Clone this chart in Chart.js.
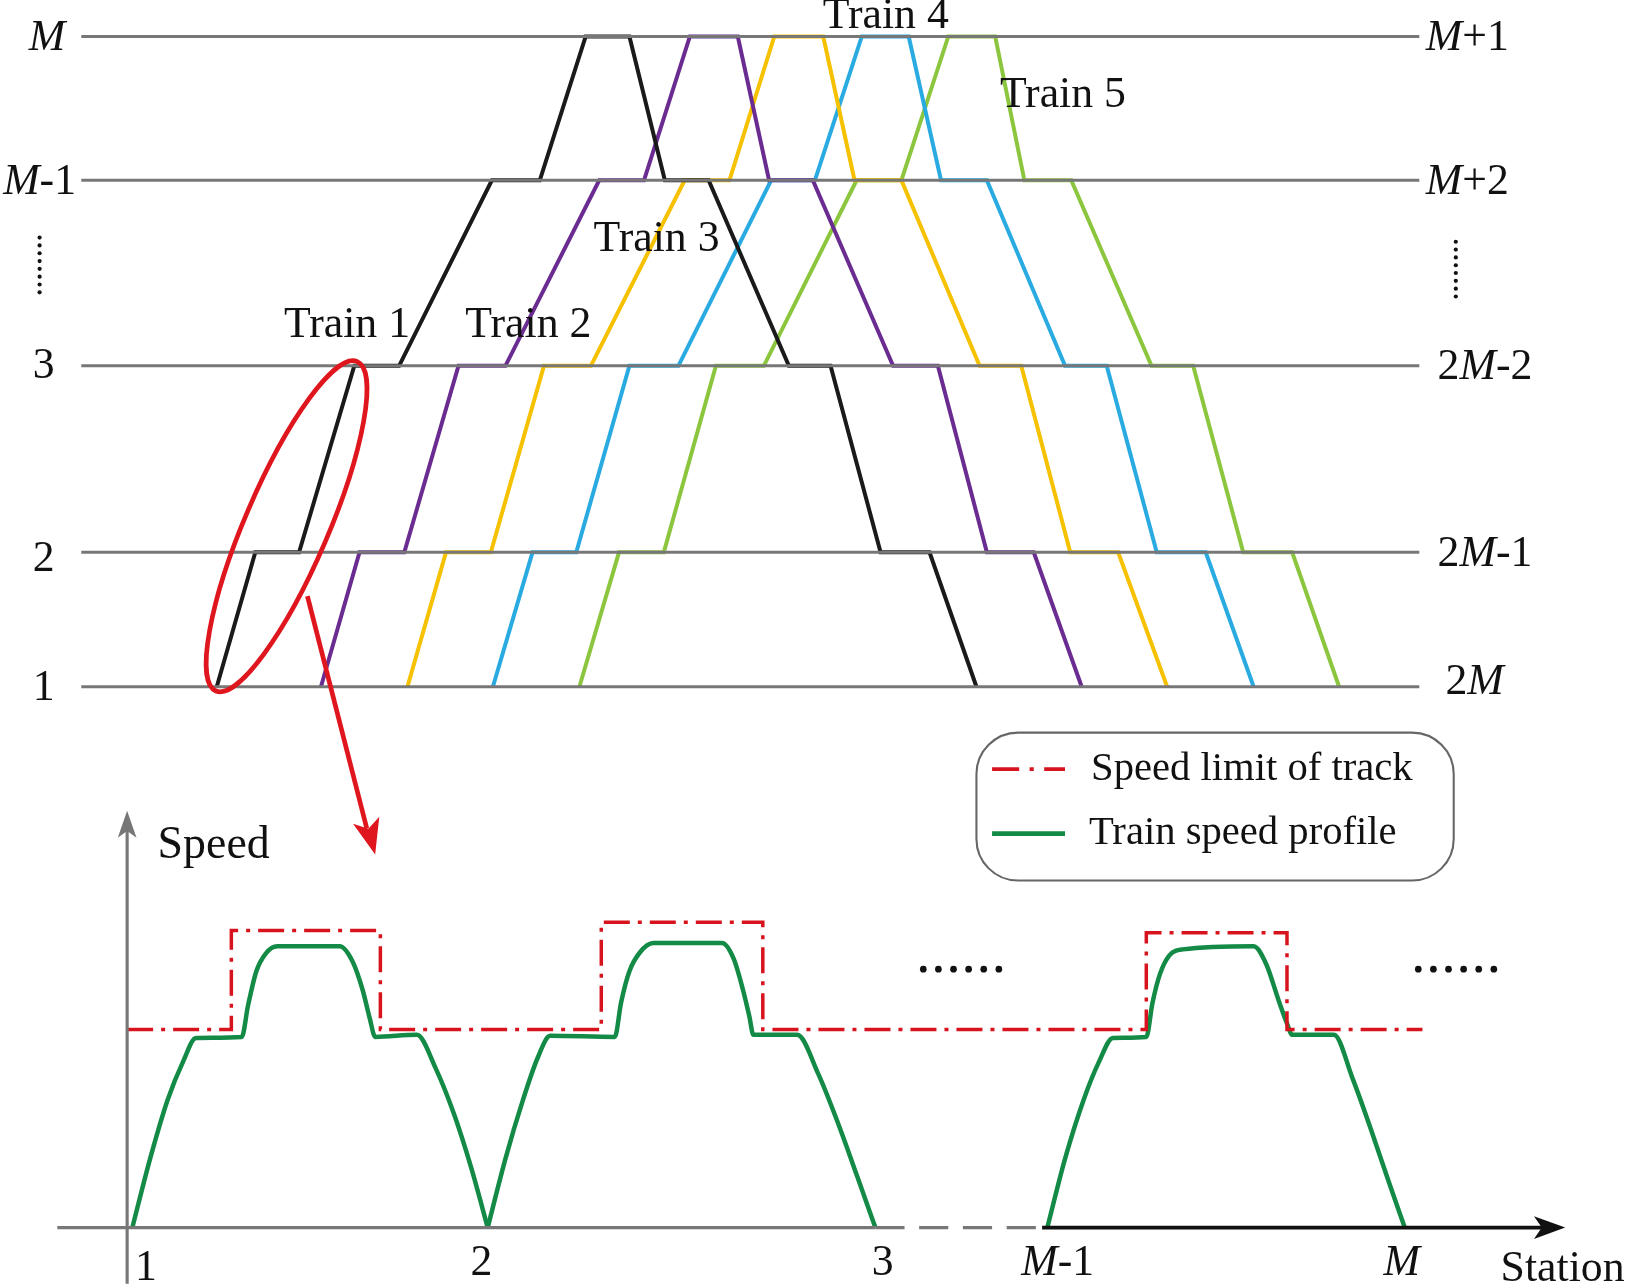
<!DOCTYPE html>
<html><head><meta charset="utf-8">
<script src="https://cdn.jsdelivr.net/npm/chart.js@4"></script>
<style>html,body{margin:0;padding:0;background:#fff}#w{width:1634px;height:1287px}</style>
</head><body><div id="w"><canvas id="c"></canvas></div>
<script>
// coordinates in reference units (1568 x 1235 plane)
const stationRowsY = [35, 173, 351, 530, 659];
const trainPatternY = [659,530,530,351,351,173,173,35,35,173,173,351,351,530,530,659];
const train1X = [208,245,287,340,383,472,518,562,604,638,680,757,797,845,892,937];
const train2X = [308,345,388,440,485,575,618,662,708,738,780,857,900,947,992,1038];
const train3X = [391,428,471,522,567,657,700,743,790,820,865,940,980,1027,1073,1120];
const train4X = [473,511,553,604,651,740,782,827,872,903,947,1022,1062,1110,1157,1203];
const train5X = [556,594,637,687,733,822,865,910,955,983,1028,1105,1145,1193,1240,1285];
const trainColors = ['#1a1a1a','#6a2c91','#f5c100','#29abe2','#8cc63f'];
const limitX = [122,222,222,365,365,577,577,732,732,1100,1100,1235,1235,1365];
const limitY = [988,988,893,893,988,988,885,885,988,988,895,895,988,988];
const prof1 = [[127,1178],[144,1112],[161,1055],[176,1018],[188,996],[232,995],[238,965],[246,932],[255,915],[266,908],[326,908],[338,922],[348,950],[355,978],[360,995],[400,993],[418,1025],[436,1070],[452,1120],[468,1178]];
const prof2 = [[468,1178],[485,1112],[502,1055],[516,1015],[528,994],[590,995],[596,962],[604,932],[614,914],[627,905],[693,905],[704,920],[713,950],[719,975],[723,993],[765,993],[785,1030],[805,1080],[823,1130],[840,1178]];
const prof3 = [[1005,1178],[1022,1112],[1040,1055],[1055,1018],[1068,996],[1100,995],[1106,962],[1113,935],[1122,917],[1135,911],[1203,908],[1215,925],[1227,960],[1235,982],[1240,993],[1280,993],[1298,1035],[1316,1085],[1333,1135],[1348,1178]];

const pts=(xs,ys)=>xs.map((x,i)=>({x,y:ys[i]}));
const ds=[];
stationRowsY.forEach(y=>ds.push({data:[{x:78,y},{x:1362,y}],borderColor:'#777',borderWidth:3,pointRadius:0}));
[train1X,train2X,train3X,train4X,train5X].forEach((xs,i)=>ds.push({data:pts(xs,trainPatternY),borderColor:trainColors[i],borderWidth:4,pointRadius:0,borderJoinStyle:'miter'}));
ds.push({data:pts(limitX,limitY),borderColor:'#d7141d',borderWidth:3.5,borderDash:[26,8,4,8],pointRadius:0});
[prof1,prof2,prof3].forEach(p=>ds.push({data:p.map(([x,y])=>({x,y})),borderColor:'#138a45',borderWidth:4.5,pointRadius:0,cubicInterpolationMode:'monotone'}));

const FONT='"Liberation Serif","Times New Roman",serif';
const deco={id:'deco',afterDatasetsDraw(ch){
  const c=ch.ctx,X=v=>ch.scales.x.getPixelForValue(v),Y=v=>ch.scales.y.getPixelForValue(v),k=X(1)-X(0);
  c.save();
  const line=(pts,col,w,dash)=>{c.beginPath();c.strokeStyle=col;c.lineWidth=w*k;c.setLineDash(dash||[]);pts.forEach(([x,y],i)=>i?c.lineTo(X(x),Y(y)):c.moveTo(X(x),Y(y)));c.stroke();c.setLineDash([]);};
  const head=(x,y,ang,col,L,W)=>{c.save();c.translate(X(x),Y(y));c.rotate(ang);c.beginPath();c.moveTo(0,0);c.lineTo(-L*k,-W*k);c.lineTo(-L*k*0.75,0);c.lineTo(-L*k,W*k);c.closePath();c.fillStyle=col;c.fill();c.restore();};
  line([[122,1232],[122,790]],'#777',3);head(122,778,-Math.PI/2,'#777',26,9);
  line([[55,1178],[840,1178]],'#777',3);line([[840,1178],[1000,1178]],'#777',3,[28*k,14*k]);
  line([[1000,1178],[1482,1178]],'#111',3.5);head(1502,1178,0,'#111',30,11);
  c.beginPath();c.strokeStyle='#e0161e';c.lineWidth=4.5*k;
  c.ellipse(X(275),Y(505),172*k,40*k,Math.atan2(-310,133),0,Math.PI*2);c.stroke();
  line([[295,572],[352,795]],'#e0161e',4.5);head(360,820,Math.atan2(248,65),'#e0161e',34,13);
  c.beginPath();c.strokeStyle='#666';c.lineWidth=2*k;c.roundRect(X(937),Y(703),458*k,142*k,40*k);c.stroke();
  line([[952,738],[1022,738]],'#d7141d',3.5,[26*k,10*k,4*k,10*k]);
  line([[952,800],[1022,800]],'#138a45',4.5);
  const T=(s,x,y,sz,al,it)=>{c.font=(it?'italic ':'')+(sz*k)+'px '+FONT;c.fillStyle='#111';c.textAlign=al||'center';c.textBaseline='middle';c.fillText(s,X(x),Y(y));};
  const TM=(parts,x,y,sz,al)=>{c.textBaseline='middle';let w=0;parts.forEach(([s,it])=>{c.font=(it?'italic ':'')+(sz*k)+'px '+FONT;w+=c.measureText(s).width;});let px=X(x)-(al==='left'?0:al==='right'?w:w/2);parts.forEach(([s,it])=>{c.font=(it?'italic ':'')+(sz*k)+'px '+FONT;c.fillStyle='#111';c.textAlign='left';c.fillText(s,px,Y(y));px+=c.measureText(s).width;});};
  TM([['M',1]],45,37,42);TM([['M',1],['-1']],38,175,42);
  T('3',42,352,42);T('2',42,537,42);T('1',42,661,42);
  TM([['M',1],['+1']],1408,37,42);TM([['M',1],['+2']],1408,175,42);
  TM([['2'],['M',1],['-2']],1425,353,42);TM([['2'],['M',1],['-1']],1425,532,42);TM([['2'],['M',1]],1415,655,42);
  c.fillStyle='#111';[[38,228,8],[1397,232,8]].forEach(([x,y,n])=>{for(let i=0;i<n;i++){c.beginPath();c.arc(X(x),Y(y+i*7.5),2*k,0,7);c.fill();}});
  T('Train 4',850,16,42);T('Train 5',1020,92,42);T('Train 3',630,230,42);T('Train 1',333,312,42);T('Train 2',507,312,42);
  T('Speed',205,812,44);T('Speed limit of track',1047,738,39,'left');T('Train speed profile',1045,800,39,'left');
  [[922,930],[1397,930]].forEach(([x,y])=>{for(let i=0;i<6;i++){c.beginPath();c.arc(X(x-36+i*14.5),Y(y),3.2*k,0,7);c.fill();}});
  T('1',140,1217,42);T('2',462,1212,42);T('3',847,1212,42);TM([['M',1],['-1']],1015,1212,42);TM([['M',1]],1345,1212,42);
  T('Station',1440,1218,42,'left');
  c.restore();
}};
new Chart(document.getElementById('c'),{type:'line',data:{datasets:ds},plugins:[deco],
 options:{responsive:true,maintainAspectRatio:false,animation:false,layout:{padding:0},
  plugins:{legend:{display:false},tooltip:{enabled:false}},
  scales:{x:{type:'linear',min:0,max:1568,display:false},y:{type:'linear',min:0,max:1235,reverse:true,display:false}}}});
</script></body></html>
